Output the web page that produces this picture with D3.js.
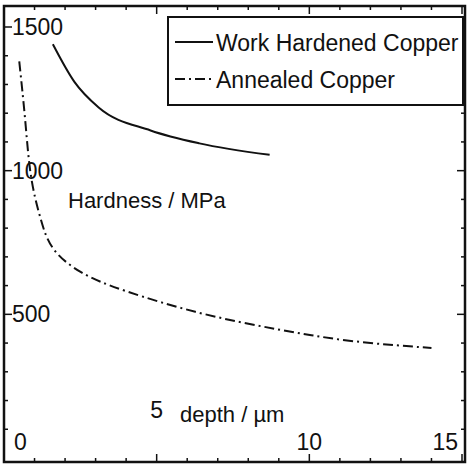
<!DOCTYPE html>
<html><head><meta charset="utf-8">
<script src="https://cdn.jsdelivr.net/npm/d3@7"></script>
<style>body{margin:0;background:#fff}text{font-family:"Liberation Sans",Arial,sans-serif;fill:#111}</style>
</head><body><div id="chart"></div>
<script>
const workDepth = [1.6, 2.3, 3.1, 4.8, 6.4, 8.7];
const workHard = [1440, 1310, 1220, 1140, 1095, 1055];
const annDepth = [0.5, 0.7, 0.85, 1.2, 1.5, 2.5, 3.8, 6.4, 9.0, 11.3, 14.0];
const annHard = [1380, 1180, 970, 830, 725, 640, 585, 500, 446, 404, 383];
const xTicks = [0, 5, 10, 15];
const yTicks = [500, 1000, 1500];

const W = 474, H = 474;
const svg = d3.select("#chart").append("svg").attr("width", W).attr("height", H);
const x = d3.scaleLinear().domain([0, 15]).range([4, 462]);
const y = d3.scaleLinear().domain([0, 1500]).range([458, 27]);
const fL = 4, fR = 465, fT = 6, fB = 462;

svg.append("rect").attr("x", fL).attr("y", fT).attr("width", fR - fL).attr("height", fB - fT)
  .attr("fill", "none").attr("stroke", "#111").attr("stroke-width", 2.5);

// minor ticks inward
const xt = d3.range(0, 15.01, 1);
svg.selectAll(".xb").data(xt).enter().append("line")
  .attr("x1", d => x(d)).attr("x2", d => x(d))
  .attr("y1", fB).attr("y2", d => fB - (d % 5 === 0 ? 8 : 4)).attr("stroke", "#111").attr("stroke-width", 1.5);
svg.selectAll(".xt").data(xt).enter().append("line")
  .attr("x1", d => x(d)).attr("x2", d => x(d))
  .attr("y1", fT).attr("y2", d => fT + (d % 5 === 0 ? 8 : 4)).attr("stroke", "#111").attr("stroke-width", 1.5);
const yt = d3.range(100, 1501, 100);
svg.selectAll(".yl").data(yt).enter().append("line")
  .attr("x1", fL).attr("x2", d => fL + (d % 500 === 0 ? 8 : 4))
  .attr("y1", d => y(d)).attr("y2", d => y(d)).attr("stroke", "#111").attr("stroke-width", 1.5);
svg.selectAll(".yr").data(yt).enter().append("line")
  .attr("x1", fR).attr("x2", d => fR - (d % 500 === 0 ? 8 : 4))
  .attr("y1", d => y(d)).attr("y2", d => y(d)).attr("stroke", "#111").attr("stroke-width", 1.5);

svg.selectAll(".ytl").data(yTicks).enter().append("text")
  .attr("x", 12).attr("y", d => y(d) + 8).attr("font-size", 23).text(d => d);
svg.selectAll(".xtl").data(xTicks).enter().append("text")
  .attr("x", d => d === 0 ? 14 : d === 15 ? x(d) - 4 : x(d))
  .attr("text-anchor", d => d === 0 ? "start" : d === 15 ? "end" : "middle")
  .attr("y", d => d === 5 ? 418 : 450).attr("font-size", 23).text(d => d);

svg.append("text").attr("x", 68).attr("y", 208).attr("font-size", 22).text("Hardness / MPa");
svg.append("text").attr("x", 180).attr("y", 422).attr("font-size", 22).text("depth / µm");

const line = d3.line().x(d => x(d[0])).y(d => y(d[1])).curve(d3.curveMonotoneX);
svg.append("path").datum(d3.zip(workDepth, workHard)).attr("d", line)
  .attr("fill", "none").attr("stroke", "#111").attr("stroke-width", 2);
svg.append("path").datum(d3.zip(annDepth, annHard)).attr("d", d3.line().x(d => x(d[0])).y(d => y(d[1])).curve(d3.curveBasis))
  .attr("fill", "none").attr("stroke", "#111").attr("stroke-width", 2).attr("stroke-dasharray", "10,4,2,4");

const lg = svg.append("g");
lg.append("rect").attr("x", 168).attr("y", 17).attr("width", 295).attr("height", 88)
  .attr("fill", "#fff").attr("stroke", "#111").attr("stroke-width", 2);
lg.append("line").attr("x1", 175).attr("x2", 213).attr("y1", 42).attr("y2", 42).attr("stroke", "#111").attr("stroke-width", 2);
lg.append("line").attr("x1", 175).attr("x2", 213).attr("y1", 79).attr("y2", 79).attr("stroke", "#111").attr("stroke-width", 2).attr("stroke-dasharray", "10,4,2,4");
lg.append("text").attr("x", 216).attr("y", 51).attr("font-size", 23).text("Work Hardened Copper");
lg.append("text").attr("x", 216).attr("y", 88).attr("font-size", 23).text("Annealed Copper");
</script></body></html>
